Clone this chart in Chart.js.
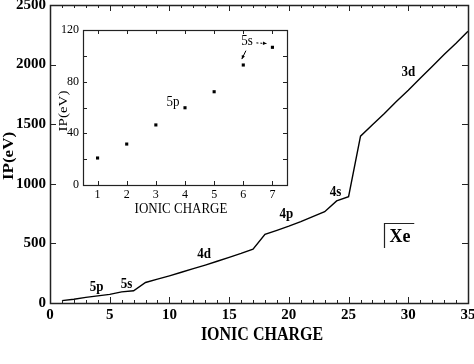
<!DOCTYPE html>
<html>
<head>
<meta charset="utf-8">
<script src="https://cdn.jsdelivr.net/npm/chart.js@4/dist/chart.umd.min.js"></script>
<style>
  body { margin: 0; background: #fff; }
  #wrap { position: relative; width: 474px; height: 364px; }
  #mainChart { position: absolute; left: 0; top: 0; }
  #insetChart { position: absolute; left: 40px; top: 20px; }
</style>
</head>
<body>
<div id="wrap">
  <canvas id="mainChart" width="474" height="364"></canvas>
  <canvas id="insetChart" width="260" height="200"></canvas>
</div>
<script>
// Xe ionisation potentials
const charges = [1, 2, 3, 4, 5, 6, 7, 8, 9, 10, 11, 12, 13, 14, 15, 16, 17, 18,
                 19, 20, 21, 22, 23, 24, 25, 26, 27, 28, 29, 30, 31, 32, 33, 34, 35];
const ipValues = [20, 32, 47, 60, 72, 93, 103, 172, 200, 228, 258, 288, 318, 350, 383, 416, 452, 576,
                  610, 645, 683, 725, 766, 856, 892, 1400, 1495, 1590, 1690, 1785, 1885, 1985, 2085, 2180, 2280];

// inset: first seven charges
const insetCharges = [1, 2, 3, 4, 5, 6, 7];
const insetValues = [20.9, 31.7, 46.5, 59.8, 72.2, 92.9, 106.6];

const xTicksMain = [0, 5, 10, 15, 20, 25, 30, 35];
const yTicksMain = [0, 500, 1000, 1500, 2000, 2500];
const xTicksInset = [1, 2, 3, 4, 5, 6, 7];
const yTicksInset = [0, 40, 80, 120];

const shellLabels = ['5p', '5s', '4d', '4p', '4s', '3d'];
const shellAt = [[3.9, 134], [6.4, 159], [12.9, 411], [19.8, 747], [23.9, 931], [30.0, 1938]];

const serif = 'Liberation Serif';

function fixedBox(w, h) {
    return function (scale) {
        if (w != null) scale.width = w;
        if (h != null) scale.height = h;
        scale.paddingLeft = 0;
        scale.paddingRight = 0;
        scale.paddingTop = 0;
        scale.paddingBottom = 0;
    };
}

function crisp(v) { return Math.round(v) + 0.5; }

// frame and inward ticks on all four sides
const frameTicks = {
    id: 'frameTicks',
    afterDatasetsDraw(chart, args, o) {
        const { ctx, chartArea: a, scales: { x, y } } = chart;
        ctx.save();
        ctx.strokeStyle = '#222';
        ctx.lineWidth = o.lw;
        ctx.strokeRect(crisp(a.left), crisp(a.top), Math.round(a.right - a.left), Math.round(a.bottom - a.top));
        ctx.lineWidth = 1;
        ctx.beginPath();
        o.xMinor.forEach(v => {
            const px = crisp(x.getPixelForValue(v));
            const len = o.xMajor.includes(v) ? o.major : o.minor;
            ctx.moveTo(px, a.bottom); ctx.lineTo(px, a.bottom - len);
            ctx.moveTo(px, a.top); ctx.lineTo(px, a.top + len);
        });
        o.yMinor.forEach(v => {
            const py = crisp(y.getPixelForValue(v));
            const len = o.yMajor.includes(v) ? o.major : o.minor;
            ctx.moveTo(a.left, py); ctx.lineTo(a.left + len, py);
            ctx.moveTo(a.right, py); ctx.lineTo(a.right - len, py);
        });
        ctx.stroke();
        ctx.restore();
    }
};

// axis titles and annotations
const textLayer = {
    id: 'textLayer',
    afterDraw(chart, args, o) {
        const { ctx, scales: { x, y } } = chart;
        ctx.save();
        ctx.fillStyle = '#000';
        ctx.textAlign = 'center';
        ctx.textBaseline = 'middle';
        (o.texts || []).forEach(t => {
            ctx.font = t.font;
            const px = t.data ? x.getPixelForValue(t.at[0]) : t.at[0];
            const py = t.data ? y.getPixelForValue(t.at[1]) : t.at[1];
            ctx.save();
            ctx.translate(px, py);
            if (t.rot) ctx.rotate(t.rot);
            ctx.scale(1, t.sy || 1);
            ctx.fillText(t.text, 0, 0);
            ctx.restore();
        });
        if (o.draw) o.draw(chart, ctx);
        ctx.restore();
    }
};

const minorMain = [];
for (let i = 0; i <= 35; i++) minorMain.push(i);

const mainTexts = shellLabels.map((s, i) => ({
    text: s, at: shellAt[i], data: true, font: 'bold 13px ' + serif, sy: 1.1
}));
mainTexts.push({ text: 'IONIC CHARGE', at: [262, 335], font: 'bold 16px ' + serif, sy: 1.15 });
mainTexts.push({ text: 'IP(eV)', at: [9, 156], rot: -Math.PI / 2, font: 'bold 17px ' + serif, sy: 0.85 });
mainTexts.push({ text: 'Xe', at: [29.3, 554], data: true, font: 'bold 18px ' + serif, sy: 1.1 });

const plain = v => String(v);

new Chart(document.getElementById('mainChart'), {
    type: 'line',
    data: {
        datasets: [{
            data: charges.map((c, i) => ({ x: c, y: ipValues[i] })),
            borderColor: '#000',
            borderWidth: 1.4,
            pointRadius: 0,
            tension: 0,
            fill: false
        }]
    },
    options: {
        responsive: false,
        animation: false,
        layout: { padding: { left: 0, right: 6, top: 5, bottom: 0 } },
        plugins: {
            legend: { display: false },
            tooltip: { enabled: false },
            frameTicks: { lw: 1.5, major: 6, minor: 3, xMinor: minorMain, xMajor: xTicksMain, yMinor: yTicksMain, yMajor: yTicksMain },
            textLayer: {
                texts: mainTexts,
                draw(chart, ctx) {
                    const { x, y } = chart.scales;
                    ctx.strokeStyle = '#222';
                    ctx.lineWidth = 1.2;
                    ctx.beginPath();
                    ctx.moveTo(crisp(x.getPixelForValue(28.0)), y.getPixelForValue(461));
                    ctx.lineTo(crisp(x.getPixelForValue(28.0)), crisp(y.getPixelForValue(673)));
                    ctx.lineTo(x.getPixelForValue(30.5), crisp(y.getPixelForValue(673)));
                    ctx.stroke();
                }
            }
        },
        scales: {
            x: {
                type: 'linear', min: 0, max: 35,
                afterBuildTicks: s => { s.ticks = xTicksMain.map(v => ({ value: v })); },
                afterFit: fixedBox(null, 61),
                grid: { display: false, drawTicks: false },
                border: { display: false },
                ticks: { padding: 3, color: '#000', font: { family: serif, weight: 'bold', size: 15 }, maxRotation: 0, callback: plain }
            },
            y: {
                type: 'linear', min: 0, max: 2500,
                afterBuildTicks: s => { s.ticks = yTicksMain.map(v => ({ value: v })); },
                afterFit: fixedBox(50, null),
                grid: { display: false, drawTicks: false },
                border: { display: false },
                ticks: { padding: 4, color: '#000', font: { family: serif, weight: 'bold', size: 15 }, callback: plain }
            }
        }
    },
    plugins: [frameTicks, textLayer]
});

const minorInsetY = [0, 20, 40, 60, 80, 100, 120];

function arrowHead(ctx, x1, y1, x2, y2, size) {
    const ang = Math.atan2(y2 - y1, x2 - x1);
    ctx.beginPath();
    ctx.moveTo(x2, y2);
    ctx.lineTo(x2 - size * Math.cos(ang - 0.45), y2 - size * Math.sin(ang - 0.45));
    ctx.lineTo(x2 - size * Math.cos(ang + 0.45), y2 - size * Math.sin(ang + 0.45));
    ctx.closePath();
    ctx.fill();
}

new Chart(document.getElementById('insetChart'), {
    type: 'line',
    data: {
        datasets: [{
            data: insetCharges.map((c, i) => ({ x: c, y: insetValues[i] })),
            showLine: false,
            pointStyle: 'rect',
            pointRadius: 2.2,
            backgroundColor: '#000',
            borderColor: '#000',
            borderWidth: 0
        }]
    },
    options: {
        responsive: false,
        animation: false,
        layout: { padding: { left: 0, right: 13, top: 10, bottom: 0 } },
        plugins: {
            legend: { display: false },
            tooltip: { enabled: false },
            frameTicks: { lw: 1.2, major: 4, minor: 4, xMinor: xTicksInset, xMajor: xTicksInset, yMinor: minorInsetY, yMajor: yTicksInset },
            textLayer: {
                texts: [
                    { text: 'IONIC CHARGE', at: [141, 189], font: '13px ' + serif, sy: 1.1 },
                    { text: 'IP(eV)', at: [24, 91], rot: -Math.PI / 2, font: '15px ' + serif, sy: 0.85 },
                    { text: '5p', at: [3.59, 64.3], data: true, font: '13px ' + serif, sy: 1.1 },
                    { text: '5s', at: [6.13, 111.5], data: true, font: '13px ' + serif, sy: 1.1 }
                ],
                draw(chart, ctx) {
                    const { x, y } = chart.scales;
                    ctx.strokeStyle = '#000';
                    ctx.fillStyle = '#000';
                    ctx.lineWidth = 1;
                    // arrow down to charge 6
                    const ax1 = x.getPixelForValue(6.09), ay1 = y.getPixelForValue(104);
                    const ax2 = x.getPixelForValue(5.95), ay2 = y.getPixelForValue(97.5);
                    ctx.beginPath(); ctx.moveTo(ax1, ay1); ctx.lineTo(ax2, ay2); ctx.stroke();
                    arrowHead(ctx, ax1, ay1, ax2, ay2, 4);
                    // dashed arrow toward charge 7
                    const bx1 = x.getPixelForValue(6.45), by1 = y.getPixelForValue(110);
                    const bx2 = x.getPixelForValue(6.8), by2 = y.getPixelForValue(109.5);
                    ctx.setLineDash([2, 2]);
                    ctx.beginPath(); ctx.moveTo(bx1, by1); ctx.lineTo(bx2, by2); ctx.stroke();
                    ctx.setLineDash([]);
                    arrowHead(ctx, bx1, by1, bx2, by2, 4);
                }
            }
        },
        scales: {
            x: {
                type: 'linear', min: 0.5, max: 7.5,
                afterBuildTicks: s => { s.ticks = xTicksInset.map(v => ({ value: v })); },
                afterFit: fixedBox(null, 35),
                grid: { display: false, drawTicks: false },
                border: { display: false },
                ticks: { padding: 3, color: '#000', font: { family: serif, size: 12 }, maxRotation: 0, callback: plain }
            },
            y: {
                type: 'linear', min: 0, max: 120,
                afterBuildTicks: s => { s.ticks = yTicksInset.map(v => ({ value: v })); },
                afterFit: fixedBox(43, null),
                grid: { display: false, drawTicks: false },
                border: { display: false },
                ticks: { padding: 4, color: '#000', font: { family: serif, size: 12 }, callback: plain }
            }
        }
    },
    plugins: [frameTicks, textLayer]
});
</script>
</body>
</html>
